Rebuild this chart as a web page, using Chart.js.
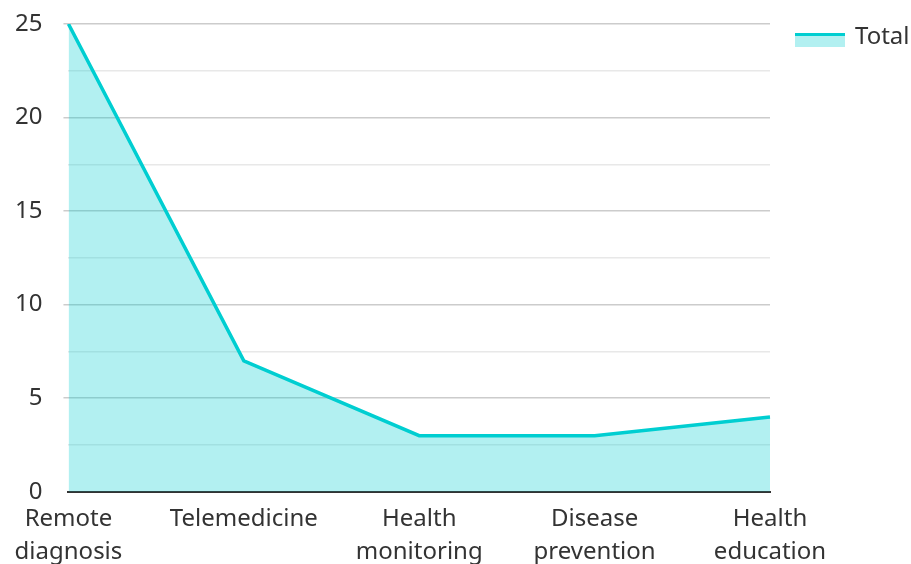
<!DOCTYPE html>
<html>
<head>
<meta charset="utf-8">
<script src="https://cdn.jsdelivr.net/npm/chart.js@4"></script>
<style>
  html, body { margin: 0; padding: 0; background: #fff; overflow: hidden; }
  #wrap { width: 911px; height: 580px; position: relative; }
</style>
</head>
<body>
<div id="wrap"><canvas id="chart"></canvas></div>
<script>
// values
const categories = [['Remote', 'diagnosis'], 'Telemedicine', ['Health', 'monitoring'], ['Disease', 'prevention'], ['Health', 'education']]
const totals = [25, 7, 3, 3, 4]
const seriesName = 'Total'
const yMax = 25
const yStep = 2.5

const lineColor = '#00CED1'
const fillColor = 'rgba(0, 206, 209, 0.3)'
const fontFamily = "'Noto Sans', sans-serif"

// legend drawn by hand: fill box with a thick line across the top, then the label
const sideLegend = {
    id: 'sideLegend',
    afterDraw(chart) {
        const ctx = chart.ctx
        const x = chart.chartArea.right + 25
        const y = chart.chartArea.top + 9
        ctx.save()
        ctx.fillStyle = fillColor
        ctx.fillRect(x, y, 50, 14)
        ctx.strokeStyle = lineColor
        ctx.lineWidth = 3
        ctx.beginPath()
        ctx.moveTo(x, y + 1.5)
        ctx.lineTo(x + 50, y + 1.5)
        ctx.stroke()
        ctx.fillStyle = '#333'
        ctx.font = '24px ' + fontFamily
        ctx.textBaseline = 'middle'
        ctx.fillText(seriesName, x + 60, y + 4)
        ctx.restore()
    }
}

const ctx = document.getElementById('chart').getContext('2d')
new Chart(ctx, {
    type: 'line',
    data: {
        labels: categories,
        datasets: [{
            label: seriesName,
            data: totals,
            borderColor: lineColor,
            backgroundColor: fillColor,
            borderWidth: 3.5,
            fill: 'origin',
            pointRadius: 0,
            tension: 0
        }]
    },
    options: {
        responsive: true,
        maintainAspectRatio: false,
        animation: false,
        layout: { padding: { top: 24, left: -6, right: 141, bottom: 0 } },
        plugins: {
            tooltip: { enabled: false },
            legend: { display: false }
        },
        scales: {
            x: {
                offset: false,
                grid: { display: false, drawTicks: false },
                border: { display: true, color: '#333', width: 2 },
                ticks: {
                    color: '#333',
                    padding: 11,
                    maxRotation: 0,
                    autoSkip: false,
                    font: { family: fontFamily, size: 24, lineHeight: 1.38 }
                }
            },
            y: {
                min: 0,
                max: yMax,
                afterFit: scale => {
                    scale.paddingTop = 0
                    scale.paddingBottom = 0
                },
                grid: {
                    color: c => (c.tick && c.tick.value % 5 === 0) ? '#cccccc' : '#e8e8e8',
                    lineWidth: c => (c.tick && c.tick.value === 0) ? 0 : 1.5,
                    tickColor: c => (c.tick && c.tick.value % 5 === 0) ? '#cccccc' : 'rgba(0,0,0,0)',
                    tickLength: 5
                },
                border: { display: false },
                ticks: {
                    stepSize: yStep,
                    padding: 21,
                    color: '#333',
                    font: { family: fontFamily, size: 24 },
                    callback: v => (v % 5 === 0 ? v : '')
                }
            }
        }
    },
    plugins: [sideLegend]
})
</script>
</body>
</html>
